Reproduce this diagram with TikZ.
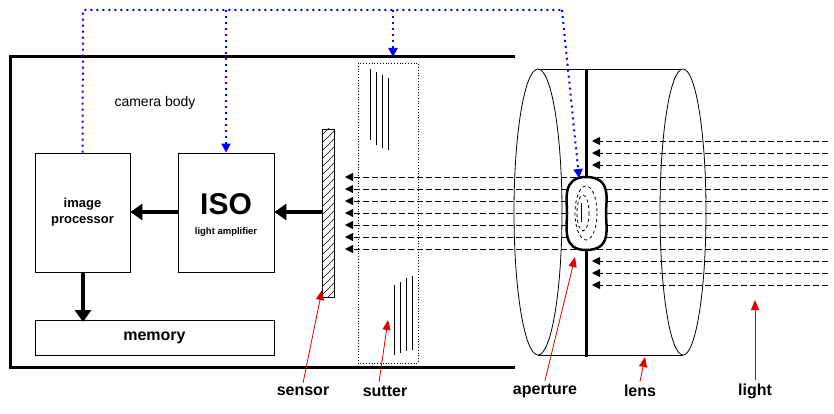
\documentclass[tikz,border=0pt]{standalone}
\usepackage{fontspec}
\setmainfont{Liberation Sans}
\usetikzlibrary{arrows.meta,patterns}
\begin{document}
\begin{tikzpicture}[x=1pt,y=-1pt,
  box/.style={draw,line width=0.8pt,inner sep=0},
  thickline/.style={line width=3pt},
  bigarrow/.style={line width=4pt,-{Triangle[length=12pt,width=16pt]}},
  ray/.style={dash pattern=on 6pt off 3pt,line width=0.8pt,-{Triangle[length=8pt,width=8pt]}},
  ctrl/.style={blue,line width=2pt,dash pattern=on 2pt off 4pt},
  ctrlarrow/.style={ctrl,-{Triangle[length=9pt,width=9pt]}},
  lab/.style={red!85!black,line width=0.8pt,-{Triangle[length=10pt,width=8pt]}},
  labtext/.style={font=\bfseries\fontsize{16}{18}\selectfont}]
\useasboundingbox (0,0) rectangle (834,414);
% camera body
\draw[thickline] (515,57) -- (10,57) -- (10,367) -- (515,367);
\node[font=\fontsize{14}{16}\selectfont] (cb) at (155,103) {camera body};
% boxes
\node[box,minimum width=95pt,minimum height=119pt,align=center,font=\bfseries\fontsize{13}{16}\selectfont] (ip) at (82.5,212.5) {image\\processor};
\node[box,minimum width=96pt,minimum height=119pt] (iso) at (226,212.5) {};
\node[font=\bfseries\fontsize{30}{32}\selectfont] (isot) at (226,204) {ISO};
\node[font=\bfseries\fontsize{9.5}{11}\selectfont] (isol) at (226,232) {light amplifier};
\node[box,minimum width=239pt,minimum height=35pt,font=\bfseries\fontsize{16}{18}\selectfont] (mem) at (154.5,337.5) {memory};
% sensor
\draw[line width=0.8pt] (322,129) rectangle (334,297);
\begin{scope}
\clip (322,129) rectangle (334,297);
\foreach \y in {129,137,...,305} \draw[line width=0.6pt] (322,\y+6) -- (334,\y-6);
\end{scope}
\coordinate (sens) at (322,212);
\draw[bigarrow] (sens) -- (iso.east |- sens);
\draw[bigarrow] (iso.west |- sens) -- (ip.east |- sens);
\draw[bigarrow] (83,272) -- (83,322);
% shutter
\draw[dotted,line width=0.8pt] (358,63) rectangle (418,363);
\foreach \x/\a/\b in {370/69/140,376/72/145,382/75/148,388/78/150} \draw[line width=0.9pt] (\x,\a)--(\x,\b);
\foreach \x/\a/\b in {394/285/355,400/282/353,406/278/351,412/276/350} \draw[line width=0.9pt] (\x,\a)--(\x,\b);
% lens
\draw[line width=0.8pt] (538,69) -- (683,69) (538,355) -- (683,355);
\draw[line width=0.8pt,fill=white] (683,212) ellipse [x radius=23, y radius=143];
\draw[line width=0.8pt] (538,212) ellipse [x radius=24, y radius=143];
\draw[thickline] (586,69) -- (586,357);
% rays
\foreach \y in {177,189,201,213,225,237,249} \draw[ray] (828,\y) -- (345,\y);
\foreach \y in {141,153,165,261,273,285} \draw[ray] (828,\y) -- (592,\y);
% aperture
\draw[line width=2.5pt,fill=white] (586,177) .. controls (612,177) and (606,200) .. (606,213) .. controls (606,228) and (612,250) .. (586,250) .. controls (562,250) and (567,228) .. (567,213) .. controls (567,200) and (562,177) .. (586,177);
\draw[dashed,line width=0.8pt] (586,213) ellipse [x radius=11, y radius=27];
\draw[dashed,line width=0.8pt] (583,213) ellipse [x radius=6, y radius=18];
\draw[line width=0.8pt] (581,203) -- (581,222);
% control lines
\coordinate (c1) at (83,10); \coordinate (c2) at (562,10);
\draw[ctrl] (ip.north) -- (c1) -- (c2);
\draw[ctrlarrow] (c2) -- (579,178);
\draw[ctrlarrow] (226,10) -- (iso.north);
\draw[ctrlarrow] (393,10) -- (393,57);
% labels
\node[labtext] (ls) at (303,391) {sensor};
\node[labtext] (lsu) at (385,391) {sutter};
\node[labtext] (la) at (545,391) {aperture};
\node[labtext] (ll) at (640,391) {lens};
\node[labtext] (lli) at (755,391) {light};
\draw[lab] (ls.north) -- (322,290);
\draw[lab] (lsu.north) ++(-6,0) -- (388,320);
\draw[lab] (la.north) -- (575,257);
\draw[lab] (ll.north) -- (645,357);
\draw[lab] (lli.north) -- (755,300);
\end{tikzpicture}
\end{document}
